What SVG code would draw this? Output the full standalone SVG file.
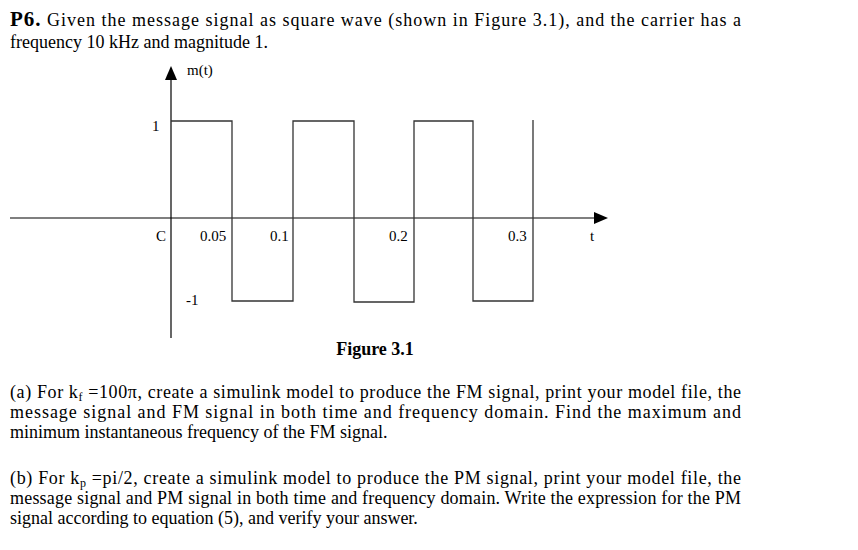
<svg xmlns="http://www.w3.org/2000/svg" width="858" height="550" viewBox="0 0 858 550">
<style>
text{font-family:"Liberation Serif","Times New Roman",serif;font-size:18px;fill:#000}
.s{font-size:15px}
.w{fill:none;stroke:#333;stroke-width:1.3}
.ax{stroke:#000;stroke-width:1.2}
</style>
<rect width="858" height="550" fill="#fff"/>
<text x="10" y="26" textLength="731" lengthAdjust="spacing"><tspan font-weight="bold" font-size="21">P6.</tspan> Given the message signal as square wave (shown in Figure 3.1), and the carrier has a</text>
<text x="10" y="48">frequency 10 kHz and magnitude 1.</text>
<g id="axes">
<line class="ax" x1="171" y1="78" x2="171" y2="338"/>
<polygon points="171,66 165,80 177,80"/>
<line class="ax" x1="10" y1="218" x2="594" y2="218"/>
<polygon points="608,218 594,212 594,224"/>
</g>
<g id="wave">
<polyline class="w" points="171,121 232,121 232,301 293,301 293,121 354,121 354,302 414,302 414,121 473,121 473,301 533,301 533,120"/>
</g>
<g id="labels">
<text class="s" x="187" y="75">m(t)</text>
<text class="s" x="152" y="131">1</text>
<text class="s" x="156" y="241">C</text>
<text class="s" x="200" y="241">0.05</text>
<text class="s" x="270" y="241">0.1</text>
<text class="s" x="389" y="241">0.2</text>
<text class="s" x="508" y="241">0.3</text>
<text class="s" x="590" y="241">t</text>
<text class="s" x="186" y="305">-1</text>
<text x="375" y="355" text-anchor="middle" font-weight="bold">Figure 3.1</text>
</g>
<text x="10" y="398" textLength="731" lengthAdjust="spacing">(a) For k<tspan font-size="12" dy="3">f</tspan><tspan dy="-3"> =100π, create a simulink model to produce the FM signal, print your model file, the</tspan></text>
<text x="10" y="418" textLength="731" lengthAdjust="spacing">message signal and FM signal in both time and frequency domain. Find the maximum and</text>
<text x="10" y="438">minimum instantaneous frequency of the FM signal.</text>
<text x="10" y="484" textLength="731" lengthAdjust="spacing">(b) For k<tspan font-size="12" dy="3">p</tspan><tspan dy="-3"> =pi/2, create a simulink model to produce the PM signal, print your model file, the</tspan></text>
<text x="10" y="504" textLength="731" lengthAdjust="spacing">message signal and PM signal in both time and frequency domain. Write the expression for the PM</text>
<text x="10" y="524">signal according to equation (5), and verify your answer.</text>
</svg>
